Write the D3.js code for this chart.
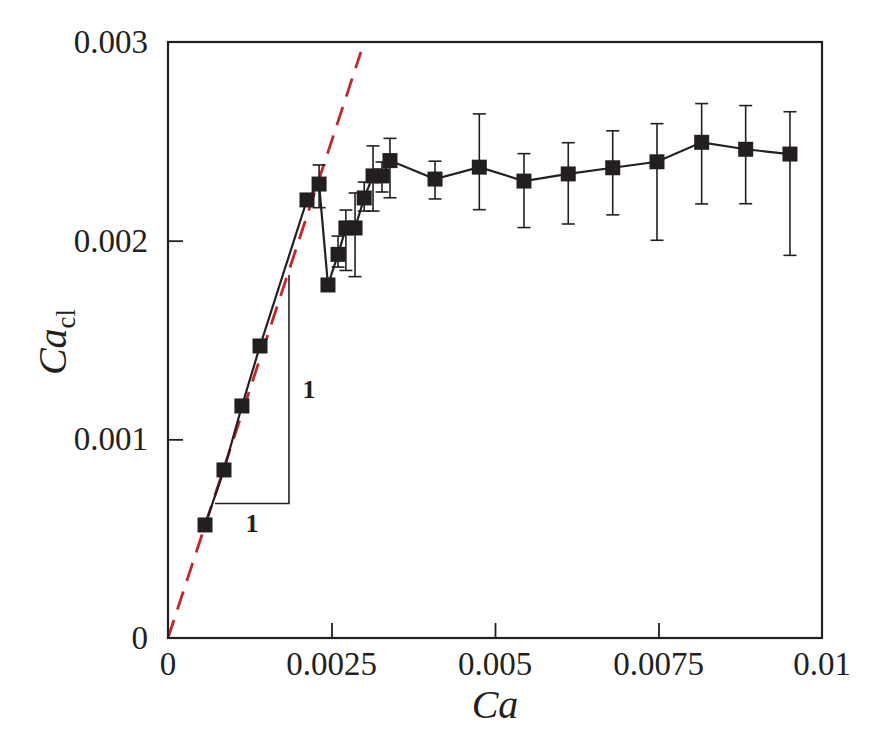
<!DOCTYPE html>
<html>
<head>
<meta charset="utf-8">
<script src="https://cdn.jsdelivr.net/npm/d3@7"></script>
<style>
  html, body { margin: 0; padding: 0; background: #fff; }
  svg { display: block; }
</style>
</head>
<body>
<svg id="chart" width="882" height="756"></svg>
<script>
// ---- data ----
const caValues = [0.000566, 0.000856, 0.00113, 0.001407, 0.002125, 0.00231, 0.002446, 0.0026, 0.00272, 0.00286, 0.0030, 0.003135, 0.003272, 0.003394, 0.004083, 0.00476, 0.005443, 0.00612, 0.0068, 0.007477, 0.00816, 0.008833, 0.00951];
const caClValues = [0.000569, 0.000846, 0.001168, 0.00147, 0.002205, 0.002285, 0.001777, 0.001931, 0.002064, 0.002064, 0.002215, 0.002326, 0.002326, 0.002403, 0.00231, 0.00237, 0.0023, 0.002336, 0.002367, 0.002397, 0.002495, 0.00246, 0.002436];
const errTop = [null, null, null, null, null, 0.002381, null, 0.002023, 0.002154, 0.00224, 0.002295, 0.002477, 0.002396, 0.002515, 0.0024, 0.002638, 0.002438, 0.002493, 0.002553, 0.002589, 0.00269, 0.00268, 0.002649];
const errBottom = [null, null, null, null, null, 0.002166, null, 0.001867, 0.00185, 0.001819, 0.002149, 0.002149, 0.002245, 0.002216, 0.00221, 0.002156, 0.002066, 0.002084, 0.00213, 0.002002, 0.002185, 0.002186, 0.001926];
const refLineX = [0, 0.00295];          // Ca_cl = Ca
const slopeTriX = [0.000719, 0.00185];  // slope triangle
const slopeTriY = [0.000677, 0.001827];
const xTicks = [0, 0.0025, 0.005, 0.0075, 0.01];
const xTickLabels = ["0", "0.0025", "0.005", "0.0075", "0.01"];
const yTicks = [0, 0.001, 0.002, 0.003];
const yTickLabels = ["0", "0.001", "0.002", "0.003"];

// ---- layout ----
const FONT = "'Liberation Serif', 'Times New Roman', Times, serif";
const svg = d3.select("#chart");
const L = 168, R = 822, T = 42, B = 638;
const x = d3.scaleLinear().domain([0, 0.01]).range([L, R]);
const y = d3.scaleLinear().domain([0, 0.003]).range([B, T]);
const ink = "#231f20";

// reference line (red dashed)
svg.append("line")
  .attr("x1", x(refLineX[0])).attr("y1", y(refLineX[0]))
  .attr("x2", x(refLineX[1])).attr("y2", y(refLineX[1]))
  .attr("stroke", "#c1272d").attr("stroke-width", 2.8)
  .attr("stroke-dasharray", "19,11");

// slope triangle
svg.append("path")
  .attr("d", `M${x(slopeTriX[0])},${y(slopeTriY[0])}H${x(slopeTriX[1])}V${y(slopeTriY[1])}`)
  .attr("fill", "none").attr("stroke", ink).attr("stroke-width", 1.6);
svg.append("text")
  .attr("x", (x(slopeTriX[0]) + x(slopeTriX[1])) / 2).attr("y", y(slopeTriY[0]) + 28)
  .attr("font-family", FONT).attr("fill", ink)
  .attr("text-anchor", "middle").attr("font-size", 26).attr("font-weight", "bold").text("1");
svg.append("text")
  .attr("x", x(slopeTriX[1]) + 20).attr("y", (y(slopeTriY[0]) + y(slopeTriY[1])) / 2 + 9)
  .attr("font-family", FONT).attr("fill", ink)
  .attr("text-anchor", "middle").attr("font-size", 26).attr("font-weight", "bold").text("1");

const pts = caValues.map((v, i) => ({ x: v, y: caClValues[i], t: errTop[i], b: errBottom[i] }));

// error bars
const eb = svg.append("g").attr("stroke", ink).attr("stroke-width", 1.6);
pts.filter(d => d.t !== null).forEach(d => {
  eb.append("line").attr("x1", x(d.x)).attr("x2", x(d.x)).attr("y1", y(d.t)).attr("y2", y(d.b));
  eb.append("line").attr("x1", x(d.x) - 6.5).attr("x2", x(d.x) + 6.5).attr("y1", y(d.t)).attr("y2", y(d.t));
  eb.append("line").attr("x1", x(d.x) - 6.5).attr("x2", x(d.x) + 6.5).attr("y1", y(d.b)).attr("y2", y(d.b));
});

// connecting line
svg.append("path")
  .datum(pts)
  .attr("d", d3.line().x(d => x(d.x)).y(d => y(d.y)))
  .attr("fill", "none").attr("stroke", ink).attr("stroke-width", 2.2);

// square markers
const s = 15;
svg.append("g").selectAll("rect").data(pts).join("rect")
  .attr("x", d => x(d.x) - s / 2).attr("y", d => y(d.y) - s / 2)
  .attr("width", s).attr("height", s).attr("fill", ink);

// axes (inward ticks)
const xAxis = d3.axisBottom(x).tickValues(xTicks.slice(1, -1)).tickSize(-15).tickFormat("");
svg.append("g").attr("transform", `translate(0,${B})`).call(xAxis)
  .call(g => g.select(".domain").remove())
  .call(g => g.selectAll("line").attr("stroke", ink).attr("stroke-width", 1.8));
const yAxis = d3.axisLeft(y).tickValues(yTicks.slice(1, -1)).tickSize(-15).tickFormat("");
svg.append("g").attr("transform", `translate(${L},0)`).call(yAxis)
  .call(g => g.select(".domain").remove())
  .call(g => g.selectAll("line").attr("stroke", ink).attr("stroke-width", 1.8));

// frame
svg.append("rect").attr("x", L).attr("y", T).attr("width", R - L).attr("height", B - T)
  .attr("fill", "none").attr("stroke", ink).attr("stroke-width", 2.2);

// tick labels
svg.append("g").selectAll("text").data(xTicks).join("text")
  .attr("x", d => x(d)).attr("y", B + 37)
  .attr("font-family", FONT).attr("fill", ink)
  .attr("text-anchor", "middle").attr("font-size", 33)
  .text((d, i) => xTickLabels[i]);
svg.append("g").selectAll("text").data(yTicks).join("text")
  .attr("x", L - 20).attr("y", d => y(d) + 11)
  .attr("font-family", FONT).attr("fill", ink)
  .attr("text-anchor", "end").attr("font-size", 33)
  .text((d, i) => yTickLabels[i]);

// axis titles
svg.append("text").attr("x", (L + R) / 2).attr("y", 718)
  .attr("font-family", FONT).attr("fill", ink)
  .attr("text-anchor", "middle").attr("font-size", 40).attr("font-style", "italic").text("Ca");
const yt = svg.append("text").attr("transform", `translate(66,${(T + B) / 2 + 2}) rotate(-90)`)
  .attr("font-family", FONT).attr("fill", ink)
  .attr("text-anchor", "middle").attr("font-size", 40);
yt.append("tspan").attr("font-style", "italic").text("Ca");
yt.append("tspan").attr("font-size", 27).attr("dy", 9).text("cl");
</script>
</body>
</html>
